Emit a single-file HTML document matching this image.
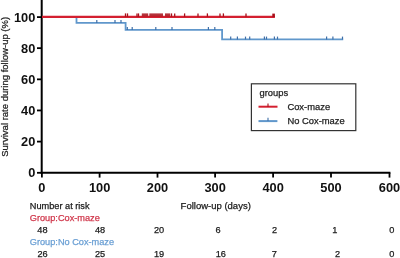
<!DOCTYPE html>
<html><head><meta charset="utf-8"><style>
html,body{margin:0;padding:0;background:#fff;}
body{width:400px;height:258px;overflow:hidden;}
svg{display:block;}
text{font-family:"Liberation Sans",Arial,sans-serif;fill:#1a1a1a;}
.b{font-size:12px;font-weight:bold;fill:#111;}
.yl{font-size:9.5px;fill:#222;stroke:#222;stroke-width:0.25px;}
.lg{font-size:9.4px;fill:#222;stroke:#222;stroke-width:0.25px;}
.t9{font-size:9.2px;stroke:#1a1a1a;stroke-width:0.25px;}
.t95{font-size:9.5px;stroke:#1a1a1a;stroke-width:0.25px;}
</style></head><body>
<svg width="400" height="258" viewBox="0 0 400 258">
<line x1="41.7" y1="0" x2="41.7" y2="173.7" stroke="#000" stroke-width="2"/>
<line x1="40.7" y1="172.7" x2="390.4" y2="172.7" stroke="#000" stroke-width="2"/>
<line x1="41.90" y1="172.7" x2="41.90" y2="177.6" stroke="#000" stroke-width="1.8"/>
<line x1="99.60" y1="172.7" x2="99.60" y2="177.6" stroke="#000" stroke-width="1.8"/>
<line x1="157.50" y1="172.7" x2="157.50" y2="177.6" stroke="#000" stroke-width="1.8"/>
<line x1="215.10" y1="172.7" x2="215.10" y2="177.6" stroke="#000" stroke-width="1.8"/>
<line x1="273.10" y1="172.7" x2="273.10" y2="177.6" stroke="#000" stroke-width="1.8"/>
<line x1="331.00" y1="172.7" x2="331.00" y2="177.6" stroke="#000" stroke-width="1.8"/>
<line x1="389.50" y1="172.7" x2="389.50" y2="177.6" stroke="#000" stroke-width="1.8"/>
<line x1="37" y1="17.10" x2="41.7" y2="17.10" stroke="#000" stroke-width="1.8"/>
<text transform="translate(35.3,21.80) scale(1.07,1)" text-anchor="end" class="b">100</text>
<line x1="37" y1="48.15" x2="41.7" y2="48.15" stroke="#000" stroke-width="1.8"/>
<text transform="translate(35.3,53.05) scale(1.07,1)" text-anchor="end" class="b">80</text>
<line x1="37" y1="79.35" x2="41.7" y2="79.35" stroke="#000" stroke-width="1.8"/>
<text transform="translate(35.3,84.25) scale(1.07,1)" text-anchor="end" class="b">60</text>
<line x1="37" y1="110.45" x2="41.7" y2="110.45" stroke="#000" stroke-width="1.8"/>
<text transform="translate(35.3,115.35) scale(1.07,1)" text-anchor="end" class="b">40</text>
<line x1="37" y1="141.60" x2="41.7" y2="141.60" stroke="#000" stroke-width="1.8"/>
<text transform="translate(35.3,146.20) scale(1.07,1)" text-anchor="end" class="b">20</text>
<line x1="37" y1="172.80" x2="41.7" y2="172.80" stroke="#000" stroke-width="1.8"/>
<text transform="translate(35.3,176.60) scale(1.07,1)" text-anchor="end" class="b">0</text>
<text transform="translate(41.90,191.9) scale(1.07,1)" text-anchor="middle" class="b">0</text>
<text transform="translate(99.60,191.9) scale(1.07,1)" text-anchor="middle" class="b">100</text>
<text transform="translate(157.50,191.9) scale(1.07,1)" text-anchor="middle" class="b">200</text>
<text transform="translate(215.10,191.9) scale(1.07,1)" text-anchor="middle" class="b">300</text>
<text transform="translate(273.10,191.9) scale(1.07,1)" text-anchor="middle" class="b">400</text>
<text transform="translate(331.00,191.9) scale(1.07,1)" text-anchor="middle" class="b">500</text>
<text transform="translate(389.50,191.9) scale(1.07,1)" text-anchor="middle" class="b">600</text>
<text transform="translate(8.2,156.8) rotate(-90)" class="yl">Survival rate during follow-up (%)</text>
<polyline fill="none" stroke="#6097cb" stroke-width="1.8" points="42,17 76.5,17 76.5,22.9 125.6,22.9 125.6,29.9 222.1,29.9 222.1,39.4 343.2,39.4"/>
<line x1="96.8" y1="20.1" x2="96.8" y2="22.9" stroke="#3f6fa8" stroke-width="1.2"/>
<line x1="115" y1="20.1" x2="115" y2="22.9" stroke="#3f6fa8" stroke-width="1.2"/>
<line x1="121" y1="20.1" x2="121" y2="22.9" stroke="#3f6fa8" stroke-width="1.2"/>
<line x1="127.3" y1="27.1" x2="127.3" y2="29.9" stroke="#3f6fa8" stroke-width="1.2"/>
<line x1="132.2" y1="27.1" x2="132.2" y2="29.9" stroke="#3f6fa8" stroke-width="1.2"/>
<line x1="155.8" y1="27.1" x2="155.8" y2="29.9" stroke="#3f6fa8" stroke-width="1.2"/>
<line x1="172" y1="27.1" x2="172" y2="29.9" stroke="#3f6fa8" stroke-width="1.2"/>
<line x1="208.4" y1="27.1" x2="208.4" y2="29.9" stroke="#3f6fa8" stroke-width="1.2"/>
<line x1="214.8" y1="27.1" x2="214.8" y2="29.9" stroke="#3f6fa8" stroke-width="1.2"/>
<line x1="230.7" y1="36.6" x2="230.7" y2="39.4" stroke="#3f6fa8" stroke-width="1.2"/>
<line x1="237.4" y1="36.6" x2="237.4" y2="39.4" stroke="#3f6fa8" stroke-width="1.2"/>
<line x1="245.5" y1="36.6" x2="245.5" y2="39.4" stroke="#3f6fa8" stroke-width="1.2"/>
<line x1="249.7" y1="36.6" x2="249.7" y2="39.4" stroke="#3f6fa8" stroke-width="1.2"/>
<line x1="264.4" y1="36.6" x2="264.4" y2="39.4" stroke="#3f6fa8" stroke-width="1.2"/>
<line x1="266.5" y1="36.6" x2="266.5" y2="39.4" stroke="#3f6fa8" stroke-width="1.2"/>
<line x1="274.4" y1="36.6" x2="274.4" y2="39.4" stroke="#3f6fa8" stroke-width="1.2"/>
<line x1="277.5" y1="36.6" x2="277.5" y2="39.4" stroke="#3f6fa8" stroke-width="1.2"/>
<line x1="326.6" y1="36.6" x2="326.6" y2="39.4" stroke="#3f6fa8" stroke-width="1.2"/>
<line x1="332.9" y1="36.6" x2="332.9" y2="39.4" stroke="#3f6fa8" stroke-width="1.2"/>
<line x1="342.5" y1="36.6" x2="342.5" y2="39.4" stroke="#3f6fa8" stroke-width="1.2"/>
<line x1="42" y1="16.95" x2="274.9" y2="16.95" stroke="#d42030" stroke-width="2.2"/>
<rect x="272.3" y="13.6" width="2.6" height="3.5" fill="#a8101a"/>
<line x1="125.5" y1="13.4" x2="125.5" y2="16.8" stroke="#a8101a" stroke-width="1.3"/>
<line x1="127.5" y1="13.4" x2="127.5" y2="16.8" stroke="#a8101a" stroke-width="1.3"/>
<line x1="137" y1="13.4" x2="137" y2="16.8" stroke="#a8101a" stroke-width="1.3"/>
<line x1="138.5" y1="13.4" x2="138.5" y2="16.8" stroke="#a8101a" stroke-width="1.3"/>
<line x1="171.5" y1="13.4" x2="171.5" y2="16.8" stroke="#a8101a" stroke-width="1.3"/>
<line x1="174.7" y1="13.4" x2="174.7" y2="16.8" stroke="#a8101a" stroke-width="1.3"/>
<line x1="184.6" y1="13.4" x2="184.6" y2="16.8" stroke="#a8101a" stroke-width="1.3"/>
<line x1="198" y1="13.4" x2="198" y2="16.8" stroke="#a8101a" stroke-width="1.3"/>
<line x1="207.4" y1="13.4" x2="207.4" y2="16.8" stroke="#a8101a" stroke-width="1.3"/>
<line x1="220" y1="13.4" x2="220" y2="16.8" stroke="#a8101a" stroke-width="1.3"/>
<line x1="223.4" y1="13.4" x2="223.4" y2="16.8" stroke="#a8101a" stroke-width="1.3"/>
<line x1="246" y1="13.4" x2="246" y2="16.8" stroke="#a8101a" stroke-width="1.3"/>
<rect x="141.8" y="13.4" width="6.4" height="3" fill="#a8101a" opacity="0.85"/>
<rect x="149.3" y="13.4" width="13.7" height="3" fill="#a8101a" opacity="0.85"/>
<rect x="165" y="13.4" width="5.2" height="3" fill="#a8101a" opacity="0.85"/>
<rect x="251.4" y="83.8" width="104.4" height="46.8" fill="#fff" stroke="#333" stroke-width="1.2"/>
<text x="259.5" y="95.5" class="lg">groups</text>
<line x1="258.5" y1="106.7" x2="277.5" y2="106.7" stroke="#d42030" stroke-width="2"/>
<line x1="268" y1="103.4" x2="268" y2="106.7" stroke="#a8101a" stroke-width="1.1"/>
<text x="287.4" y="110.2" class="lg">Cox-maze</text>
<line x1="258.5" y1="121.1" x2="277.4" y2="121.1" stroke="#6097cb" stroke-width="2"/>
<line x1="268" y1="117.8" x2="268" y2="121.1" stroke="#3f6fa8" stroke-width="1.1"/>
<text x="287.4" y="124.4" class="lg">No Cox-maze</text>
<text x="180.6" y="209.2" class="t95">Follow-up (days)</text>
<text x="29.8" y="209" class="t9">Number at risk</text>
<text x="29.8" y="221.4" class="t9" style="fill:#d0384c;stroke:#d0384c">Group:Cox-maze</text>
<text x="29.8" y="245.4" class="t9" style="fill:#6a9fd4;stroke:#6a9fd4">Group:No Cox-maze</text>
<text x="42.4" y="233.1" text-anchor="middle" class="t9">48</text>
<text x="100" y="233.1" text-anchor="middle" class="t9">48</text>
<text x="159" y="233.1" text-anchor="middle" class="t9">20</text>
<text x="218" y="233.1" text-anchor="middle" class="t9">6</text>
<text x="274.6" y="233.1" text-anchor="middle" class="t9">2</text>
<text x="334.7" y="233.1" text-anchor="middle" class="t9">1</text>
<text x="391.7" y="233.1" text-anchor="middle" class="t9">0</text>
<text x="42.5" y="256.9" text-anchor="middle" class="t9">26</text>
<text x="100" y="256.9" text-anchor="middle" class="t9">25</text>
<text x="159" y="256.9" text-anchor="middle" class="t9">19</text>
<text x="220.8" y="256.9" text-anchor="middle" class="t9">16</text>
<text x="274.4" y="256.9" text-anchor="middle" class="t9">7</text>
<text x="337.6" y="256.9" text-anchor="middle" class="t9">2</text>
<text x="391.7" y="256.9" text-anchor="middle" class="t9">0</text>
</svg>
</body></html>
